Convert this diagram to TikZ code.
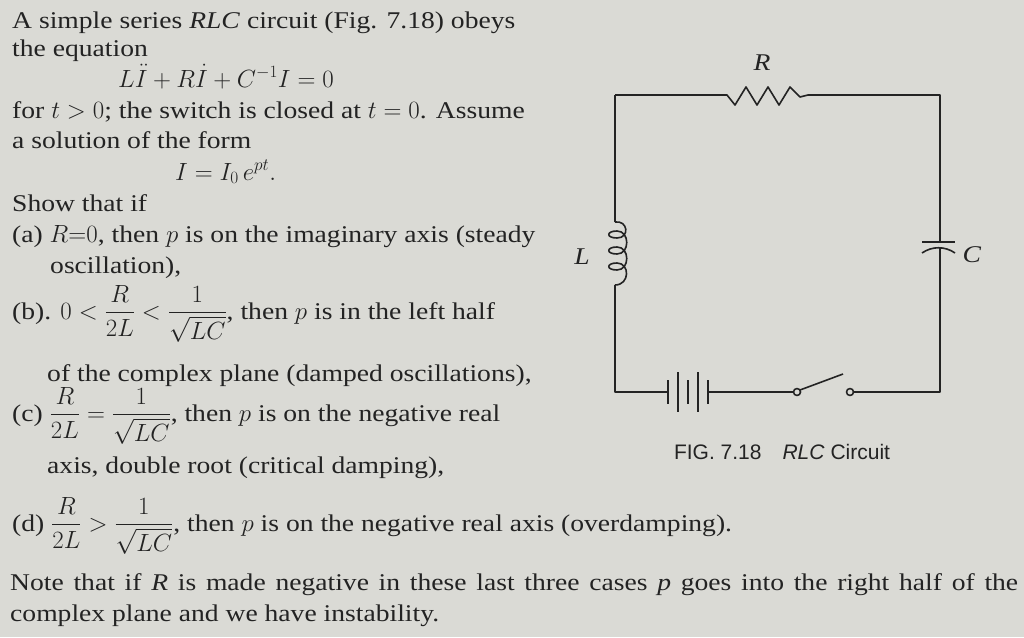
\documentclass[tikz,border=0pt]{standalone}
\usepackage{amsmath}
\usepackage{fontspec}
\setmainfont[FakeStretch=1.15]{Liberation Serif}
\newfontfamily\capfont{Liberation Sans}
\definecolor{paper}{RGB}{218,218,213}
\definecolor{ink}{RGB}{35,35,35}
\begin{document}
\begin{tikzpicture}[x=1pt,y=-1pt,
  txt/.style={anchor=base west,inner sep=0pt,text=ink,font=\fontsize{24}{28}\selectfont},
  wire/.style={draw=ink,line width=1.6pt,line join=round}]
\fill[paper] (0,0) rectangle (1024,637);
\useasboundingbox (0,0) rectangle (1024,637);
\node[txt] (l1) at (12,28) {A simple series \textit{RLC} circuit (Fig. 7.18) obeys};
\node[txt] (l2) at (12,56) {the equation};
\node[txt] (l3) at (118,87) {$L\ddot I+R\dot I+C^{-1}I=0$};
\node[txt] (l4) at (12,118) {for $t>0$; the switch is closed at $t=0$. Assume};
\node[txt] (l5) at (12,148) {a solution of the form};
\node[txt] (l6) at (175,180) {$I=I_0\,e^{pt}.$};
\node[txt] (l7) at (12,211) {Show that if};
\node[txt] (l8) at (12,242) {(a) $R{=}0$, then $p$ is on the imaginary axis (steady};
\node[txt] (l9) at (50,273) {oscillation),};
\node[txt] (l10) at (12,319) {(b). $0<\dfrac{R}{2L}<\dfrac{1}{\sqrt{LC}}$, then $p$ is in the left half};
\node[txt] (l11) at (47,381) {of the complex plane (damped oscillations),};
\node[txt] (l12) at (12,421) {(c) $\dfrac{R}{2L}=\dfrac{1}{\sqrt{LC}}$, then $p$ is on the negative real};
\node[txt] (l13) at (47,473) {axis, double root (critical damping),};
\node[txt] (l14) at (12,531) {(d) $\dfrac{R}{2L}>\dfrac{1}{\sqrt{LC}}$, then $p$ is on the negative real axis (overdamping).};
\node[txt] (l15) at (10,590) {\makebox[1008pt][s]{Note that if \textit{R} is made negative in these last three cases \textit{p} goes into the right half of the}};
\node[txt] (l16) at (10,621) {complex plane and we have instability.};
% circuit
\coordinate (tl) at (615,95);
\coordinate (tr) at (940,95);
\coordinate (bl) at (615,392);
\coordinate (br) at (940,392);
\draw[wire] (tl) -- (727,95) -- (735,105) -- (746,87) -- (757,105) -- (768,87) -- (779,105) -- (790,87) -- (800,97) -- (808,95) -- (tr) -- (940,242);
\draw[wire] (922,242) -- (955,242);
\draw[wire] (922,253) .. controls (932,246) and (945,246) .. (955,253);
\draw[wire] (940,248) -- (br) -- (853,392);
\draw[wire] (797,392) circle (3.5);
\draw[wire] (850,392) circle (3.5);
\draw[wire] (800,390) -- (843,374);
\draw[wire] (793,392) -- (708,392);
\draw[wire] (668,392) -- (bl) -- (615,285);
\draw[wire] (tl) -- (615,222);
\draw[wire] (615,222) .. controls (628,220) and (630,238) .. (617,238)
  .. controls (606,238) and (606,231) .. (617,231)
  .. controls (630,231) and (630,254) .. (617,254)
  .. controls (606,254) and (606,247) .. (617,247)
  .. controls (630,247) and (630,270) .. (617,270)
  .. controls (606,270) and (606,263) .. (617,263)
  .. controls (630,263) and (630,285) .. (615,285);
\foreach \x/\h in {668/12,678/20,688/12,698/20,708/12}
  \draw[wire] (\x,392-\h) -- (\x,392+\h);
\node[txt,anchor=center] (R) at (762,63) {\textit{R}};
\node[txt,anchor=center] (L) at (582,257) {\textit{L}};
\node[txt,anchor=center] (C) at (972,255) {\textit{C}};
\node[anchor=center,text=ink,font=\capfont\fontsize{21}{24}\selectfont] (cap) at (782,452) {FIG.\ 7.18\quad \textit{RLC} Circuit};
\end{tikzpicture}
\end{document}
